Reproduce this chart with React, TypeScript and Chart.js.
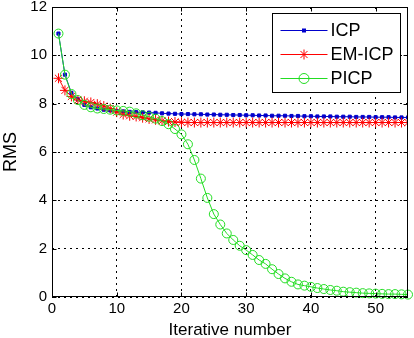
import React, { useEffect, useRef } from "react";
import { Chart, registerables } from "chart.js";

Chart.register(...registerables);

const iterations = [
  1, 2, 3, 4, 5, 6, 7, 8, 9, 10, 11, 12, 13, 14, 15, 16, 17, 18, 19, 20,
  21, 22, 23, 24, 25, 26, 27, 28, 29, 30, 31, 32, 33, 34, 35, 36, 37, 38, 39, 40,
  41, 42, 43, 44, 45, 46, 47, 48, 49, 50, 51, 52, 53, 54, 55,
];

const icpRms = [
  10.9, 9.2, 8.45, 8.18, 7.95, 7.85, 7.8, 7.75, 7.72, 7.7,
  7.68, 7.66, 7.65, 7.64, 7.63, 7.62, 7.6, 7.59, 7.58, 7.57,
  7.57, 7.56, 7.56, 7.55, 7.55, 7.54, 7.54, 7.53, 7.53, 7.52,
  7.52, 7.51, 7.51, 7.5, 7.5, 7.5, 7.49, 7.49, 7.48, 7.48,
  7.47, 7.47, 7.47, 7.46, 7.46, 7.46, 7.45, 7.45, 7.45, 7.44,
  7.44, 7.44, 7.43, 7.43, 7.43,
];

const emIcpRms = [
  9.05, 8.55, 8.3, 8.15, 8.1, 8.05, 7.98, 7.9, 7.8, 7.65,
  7.55, 7.5, 7.47, 7.42, 7.37, 7.33, 7.29, 7.26, 7.24, 7.23,
  7.22, 7.22, 7.22, 7.22, 7.22, 7.22, 7.22, 7.22, 7.22, 7.22,
  7.22, 7.22, 7.22, 7.22, 7.22, 7.22, 7.22, 7.22, 7.22, 7.22,
  7.22, 7.22, 7.22, 7.22, 7.22, 7.22, 7.22, 7.22, 7.22, 7.22,
  7.22, 7.22, 7.22, 7.22, 7.22,
];

const picpRms = [
  10.9, 9.2, 8.4, 8.15, 7.95, 7.85, 7.8, 7.78, 7.75, 7.72,
  7.7, 7.67, 7.6, 7.52, 7.46, 7.38, 7.28, 7.15, 6.95, 6.73,
  6.32, 5.67, 4.9, 4.1, 3.43, 3.0, 2.63, 2.36, 2.12, 1.94,
  1.74, 1.53, 1.37, 1.15, 0.95, 0.77, 0.63, 0.52, 0.47, 0.42,
  0.37, 0.33, 0.29, 0.26, 0.22, 0.2, 0.18, 0.16, 0.15, 0.14,
  0.13, 0.12, 0.12, 0.11, 0.1,
];

const seriesLabels = ["ICP", "EM-ICP", "PICP"];
const xTitle = "Iterative number";
const yTitle = "RMS";
const xMin = 0;
const xMax = 55;
const xStep = 10;
const yMin = 0;
const yMax = 12;
const yStep = 2;

const FONT = "'Liberation Sans', Arial, Helvetica, sans-serif";
const BLUE = "#0000cc";
const RED = "#ff0000";
const GREEN = "#22dd22";

const toPoints = (ys: number[]) => iterations.map((x, i) => ({ x, y: ys[i] }));

function drawMarker(ctx: CanvasRenderingContext2D, style: string, x: number, y: number, color: string) {
  ctx.save();
  ctx.strokeStyle = color;
  ctx.fillStyle = color;
  ctx.lineWidth = 1;
  if (style === "rect") {
    ctx.fillRect(x - 2, y - 2, 4, 4);
  } else if (style === "star") {
    const r = 5;
    const d = r * Math.SQRT1_2;
    ctx.beginPath();
    ctx.moveTo(x - r, y); ctx.lineTo(x + r, y);
    ctx.moveTo(x, y - r); ctx.lineTo(x, y + r);
    ctx.moveTo(x - d, y - d); ctx.lineTo(x + d, y + d);
    ctx.moveTo(x - d, y + d); ctx.lineTo(x + d, y - d);
    ctx.stroke();
  } else {
    ctx.beginPath();
    ctx.arc(x, y, 5, 0, Math.PI * 2);
    ctx.stroke();
  }
  ctx.restore();
}

const framePlugin = {
  id: "matlabFrame",
  afterDatasetsDraw(chart: any) {
    const { ctx, chartArea: a, scales } = chart;
    const L = Math.round(a.left) + 0.5;
    const R = Math.round(a.right) - 0.5;
    const T = Math.round(a.top) + 0.5;
    const B = Math.round(a.bottom) - 0.5;
    ctx.save();
    ctx.strokeStyle = "#000";
    ctx.lineWidth = 1;
    ctx.setLineDash([]);
    ctx.strokeRect(L, T, R - L, B - T);
    const tl = 4;
    ctx.beginPath();
    scales.x.ticks.forEach((t: any) => {
      const px = Math.round(scales.x.getPixelForValue(t.value)) + 0.5;
      ctx.moveTo(px, B); ctx.lineTo(px, B - tl);
      ctx.moveTo(px, T); ctx.lineTo(px, T + tl);
    });
    scales.y.ticks.forEach((t: any) => {
      const py = Math.round(scales.y.getPixelForValue(t.value)) + 0.5;
      ctx.moveTo(L, py); ctx.lineTo(L + tl, py);
      ctx.moveTo(R, py); ctx.lineTo(R - tl, py);
    });
    ctx.stroke();

    // legend box
    const w = 128;
    const h = 79;
    const x0 = Math.round(a.right - 8 - w) + 0.5;
    const y0 = Math.round(a.top + 6) + 0.5;
    ctx.fillStyle = "#fff";
    ctx.fillRect(x0, y0, w, h);
    ctx.strokeRect(x0, y0, w, h);
    ctx.font = `18px ${FONT}`;
    ctx.textBaseline = "middle";
    ctx.textAlign = "left";
    chart.data.datasets.forEach((ds: any, i: number) => {
      const y = Math.round(y0 + 16 + i * 24) + 0.5;
      const lx0 = x0 + 8;
      const lx1 = x0 + 55;
      ctx.strokeStyle = ds.borderColor;
      ctx.beginPath();
      ctx.moveTo(lx0, y);
      ctx.lineTo(lx1, y);
      ctx.stroke();
      drawMarker(ctx, ds.pointStyle, (lx0 + lx1) / 2, y, ds.borderColor);
      ctx.fillStyle = "#000";
      ctx.fillText(ds.label, x0 + 58, y + 1);
    });
    ctx.restore();
  },
};

export default function App() {
  const canvasRef = useRef<HTMLCanvasElement | null>(null);

  useEffect(() => {
    if (!canvasRef.current) return;
    const chart = new Chart(canvasRef.current, {
      type: "line",
      data: {
        datasets: [
          {
            label: seriesLabels[0],
            data: toPoints(icpRms),
            borderColor: BLUE,
            backgroundColor: BLUE,
            borderWidth: 1,
            pointStyle: "rect",
            pointRadius: 2.2,
            pointBorderWidth: 1,
            pointBackgroundColor: BLUE,
            tension: 0,
            fill: false,
            order: 2,
          },
          {
            label: seriesLabels[1],
            data: toPoints(emIcpRms),
            borderColor: RED,
            backgroundColor: RED,
            borderWidth: 1,
            pointStyle: "star",
            pointRadius: 5,
            pointBorderWidth: 1,
            tension: 0,
            fill: false,
            order: 1,
          },
          {
            label: seriesLabels[2],
            data: toPoints(picpRms),
            borderColor: GREEN,
            backgroundColor: "rgba(0,0,0,0)",
            borderWidth: 1,
            pointStyle: "circle",
            pointRadius: 4.5,
            pointBorderWidth: 1,
            pointBackgroundColor: "rgba(0,0,0,0)",
            tension: 0,
            fill: false,
            clip: false,
            order: 0,
          },
        ],
      },
      options: {
        responsive: false,
        animation: false,
        devicePixelRatio: 1,
        layout: { padding: { top: 7, right: 6, left: 0, bottom: 0 } },
        plugins: {
          legend: { display: false },
          tooltip: { enabled: false },
        },
        scales: {
          x: {
            type: "linear",
            min: xMin,
            max: xMax,
            ticks: {
              stepSize: xStep,
              includeBounds: false,
              color: "#000",
              padding: 3,
              maxRotation: 0,
              font: { family: FONT, size: 15 },
            },
            grid: { color: "#000", lineWidth: 1, drawTicks: false },
            border: { display: false, dash: [2, 4] },
            title: {
              display: true,
              text: xTitle,
              color: "#000",
              font: { family: FONT, size: 17, lineHeight: 1 },
              padding: { top: 0, bottom: -1 },
            },
            afterFit: (s: any) => {
              s.height = 41;
              s.paddingLeft = 0;
              s.paddingRight = 0;
            },
          },
          y: {
            type: "linear",
            min: yMin,
            max: yMax,
            ticks: {
              stepSize: yStep,
              color: "#000",
              padding: 5,
              font: { family: FONT, size: 15 },
            },
            grid: { color: "#000", lineWidth: 1, drawTicks: false },
            border: { display: false, dash: [2, 4] },
            title: {
              display: true,
              text: yTitle,
              color: "#000",
              font: { family: FONT, size: 18, lineHeight: 1 },
              padding: { top: 2, bottom: 0 },
            },
            afterFit: (s: any) => {
              s.width = 52;
              s.paddingTop = 0;
              s.paddingBottom = 0;
            },
          },
        },
      },
      plugins: [framePlugin],
    } as any);
    return () => chart.destroy();
  }, []);

  return (
    <div style={{ position: "absolute", left: 0, top: 0, width: 414, height: 338, background: "#fff" }}>
      <canvas ref={canvasRef} width={414} height={338} style={{ display: "block" }} />
    </div>
  );
}
